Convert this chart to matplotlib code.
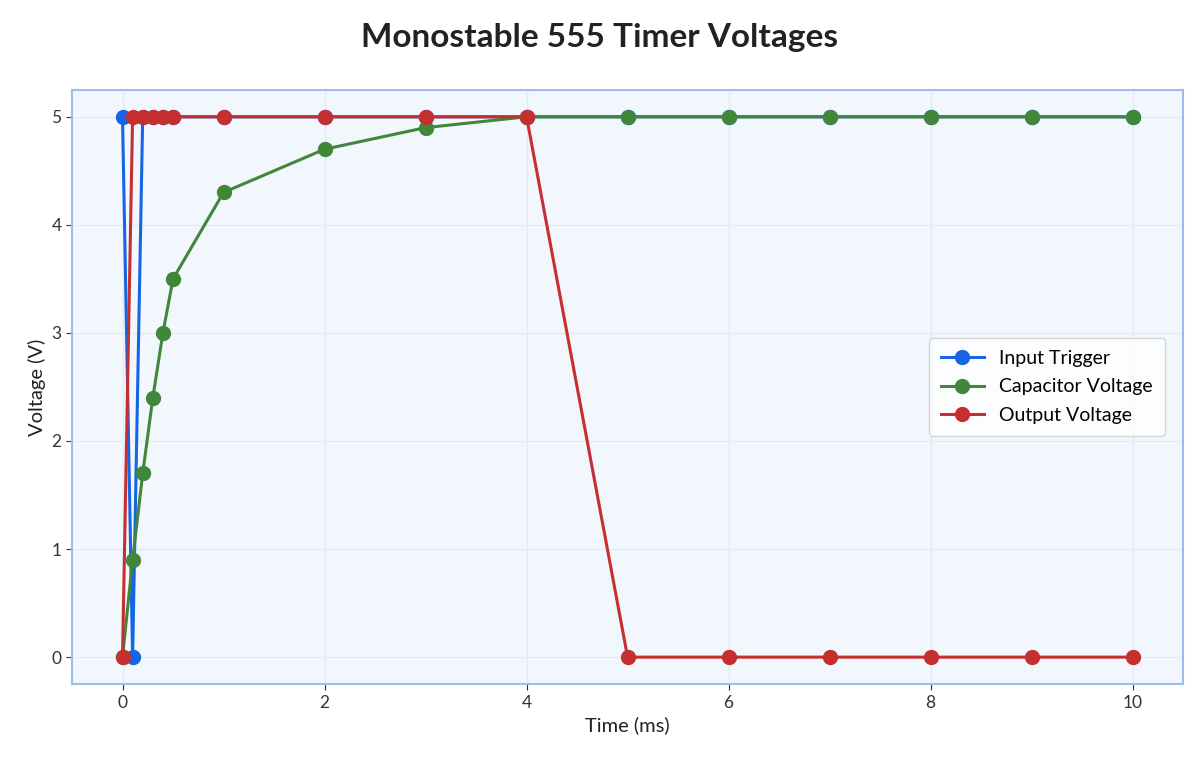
import matplotlib.pyplot as plt

# Data
time_ms = [0, 0.1, 0.2, 0.3, 0.4, 0.5, 1, 2, 3, 4, 5, 6, 7, 8, 9, 10]
input_trigger = [5, 0, 5, 5, 5, 5, 5, 5, 5, 5, 5, 5, 5, 5, 5, 5]
capacitor_v = [0, 0.9, 1.7, 2.4, 3.0, 3.5, 4.3, 4.7, 4.9, 5, 5, 5, 5, 5, 5, 5]
output_v = [0, 5, 5, 5, 5, 5, 5, 5, 5, 5, 0, 0, 0, 0, 0, 0]

plt.rcParams['font.family'] = ['Lato', 'DejaVu Sans']

fig = plt.figure(figsize=(12, 7.61), dpi=100)
ax = fig.add_axes([0.06, 0.101, 0.926, 0.781])
ax.set_facecolor('#f2f7fd')

ax.plot(time_ms, input_trigger, '-o', color='#1565e6', lw=2.2, ms=10, label='Input Trigger')
ax.plot(time_ms, capacitor_v, '-o', color='#41873a', lw=2.2, ms=10, label='Capacitor Voltage')
ax.plot(time_ms, output_v, '-o', color='#c62f2f', lw=2.2, ms=10, label='Output Voltage')

ax.set_xlim(-0.5, 10.5)
ax.set_ylim(-0.25, 5.25)
ax.set_xticks([0, 2, 4, 6, 8, 10])
ax.grid(True, color='#e3eaf7', lw=1)
ax.set_axisbelow(True)
for s in ax.spines.values():
    s.set_color('#9dbdf0')
    s.set_linewidth(1.5)
ax.tick_params(labelsize=12.5, colors='#333333', length=4)

ax.set_xlabel('Time (ms)', fontsize=14.5, color='#222222')
ax.set_ylabel('Voltage (V)', fontsize=14.5, color='#222222')
fig.suptitle('Monostable 555 Timer Voltages', fontsize=24, fontweight='bold', y=0.97, color='#222222')

leg = ax.legend(loc='center right', fontsize=14, frameon=True, borderpad=0.6,
                labelspacing=0.6, handlelength=2.2, bbox_to_anchor=(0.992, 0.5))
leg.get_frame().set_edgecolor('#cccccc')
leg.get_frame().set_facecolor('white')

fig.savefig('out.png', dpi=100)
